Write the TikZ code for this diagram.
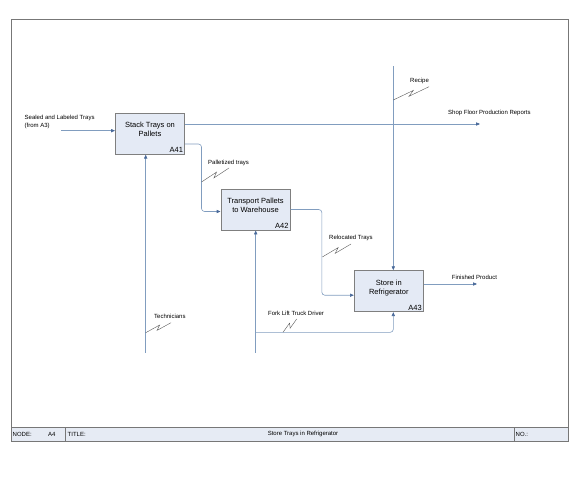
\documentclass[tikz,border=0pt]{standalone}
\usepackage{fontspec}
\setmainfont{Liberation Sans}
\usepackage{xcolor}
\usepackage{tikz}
\usetikzlibrary{arrows.meta,calc}
\definecolor{boxfill}{HTML}{E4EAF5}
\definecolor{boxline}{HTML}{7F7F7F}
\definecolor{flowline}{HTML}{819DBF}
\definecolor{flowtip}{HTML}{4A6A9A}
\definecolor{framegray}{HTML}{777777}
\definecolor{barfill}{HTML}{E6EBF4}
\newcommand{\squiggle}[2]{\draw [squig] (#1) -- ($(#1)!0.58!(#2)!2pt!90:(#2)$) -- ($(#1)!0.42!(#2)!2pt!-90:(#2)$) -- (#2);}

\begin{document}
\begin{tikzpicture}[x=1pt, y=-1pt,
    actbox/.style={draw=boxline, fill=boxfill, line width=1pt, minimum width=69pt, minimum height=41pt,
      inner sep=0pt, align=center, text depth=8pt, font=\fontsize{7.5}{9}\selectfont},
    boxid/.style={anchor=south east, inner sep=1.8pt, font=\fontsize{7.5}{9}\selectfont},
    flow/.style={draw=flowline, line width=0.6pt, rounded corners=3pt,
      -{Triangle[length=3.8pt,width=3.2pt,color=flowtip]}},
    arrowlabel/.style={anchor=west, inner sep=0pt, align=left, font=\fontsize{6}{8}\selectfont},
    squig/.style={draw=black!65, line width=0.4pt},
    framel/.style={draw=framegray, line width=0.9pt},
    barlbl/.style={anchor=west, inner sep=0pt, font=\fontsize{6}{8}\selectfont}]
    \useasboundingbox (0,0) rectangle (586,498);
    % frame and title bar
    \draw [framel] (11.5,19) rectangle (568.5,441);
    \draw [framel, fill=barfill] (11.5,427) rectangle (568.5,441);
    \draw [framel] (65.7,427) -- (65.7,441);
    \draw [framel] (514,427) -- (514,441);
    \node [barlbl] (nodelbl) at (12.5,434) {NODE:};
    \node [barlbl] (nodeno) at (48,434) {A4};
    \node [barlbl] (titlelbl) at (67.5,434) {TITLE:};
    \node [barlbl, anchor=center] (titletxt) at (303,434) {Store Trays in Refrigerator};
    \node [barlbl] (nolbl) at (515.5,434) {NO.:};
    % activities
    \node [actbox] (a41) at (150,133.7) {Stack Trays on\\Pallets};
    \node [actbox] (a42) at (255.5,209.5) {Transport Pallets\\to Warehouse};
    \node [actbox] (a43) at (388.8,291.2) {Store in\\Refrigerator};
    \node [boxid] (a41id) at (a41.south east) {A41};
    \node [boxid] (a42id) at (a42.south east) {A42};
    \node [boxid] (a43id) at (a43.south east) {A43};
    % free ends
    \coordinate (sltin) at (61,130.7);
    \coordinate (sfpr) at (480,124);
    \coordinate (recipe) at (393.3,66);
    \coordinate (finprod) at (477,284);
    \coordinate (techn) at (145.7,352.7);
    \coordinate (fltd) at (255.7,352.7);
    \coordinate (fork) at (255.7,332.3);
    % arrows
    \draw [flow] (sltin) -- (sltin -| a41.west);
    \draw [flow] (sfpr -| a41.east) -- (sfpr);
    \draw [flow] ([yshift=-10.3pt]a41.east) -| ([xshift=-19pt,yshift=-2pt]a42.west) -- ([yshift=-2pt]a42.west);
    \draw [flow] (a42.east) -| ([xshift=-32pt,yshift=-4pt]a43.west) -- ([yshift=-4pt]a43.west);
    \draw [flow] (recipe) -- (recipe |- a43.north);
    \draw [flow] (finprod -| a43.east) -- (finprod);
    \draw [flow] (techn) -- (techn |- a41.south);
    \draw [flow] (fltd) -- (fltd |- a42.south);
    \draw [flow] (fork) -| (recipe |- a43.south);
    % squiggles
    \squiggle{201.5,182}{229,168}
    \squiggle{322.3,257}{351,244}
    \squiggle{393.3,100}{429,86.7}
    \squiggle{145.7,332.7}{171,322.7}
    \squiggle{283,332.3}{296.7,319}
    % labels
    \node [arrowlabel] (sltlbl) at (24.5,122) {Sealed and Labeled Trays\\(from A3)};
    \node [arrowlabel] (sfprlbl) at (448,113) {Shop Floor Production Reports};
    \node [arrowlabel] (pallbl) at (208,163) {Palletized trays};
    \node [arrowlabel] (rellbl) at (329,238) {Relocated Trays};
    \node [arrowlabel] (reclbl) at (410,80.7) {Recipe};
    \node [arrowlabel] (finlbl) at (451.7,277.3) {Finished Product};
    \node [arrowlabel] (techlbl) at (154,316.7) {Technicians};
    \node [arrowlabel] (fltdlbl) at (268,313) {Fork Lift Truck Driver};
\end{tikzpicture}
\end{document}
